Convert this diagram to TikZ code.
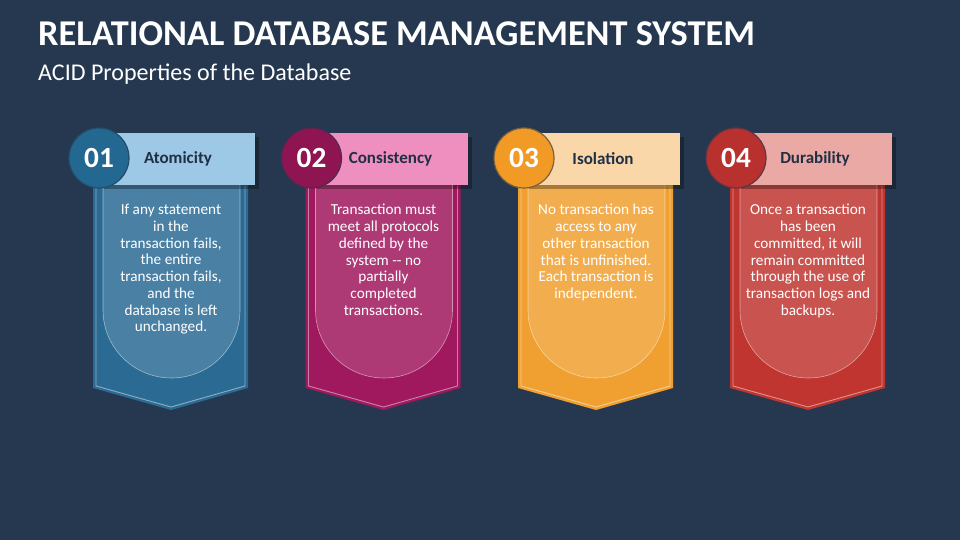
\documentclass[tikz,border=0pt]{standalone}
\usepackage{fontspec}
\setmainfont{Carlito}
\usetikzlibrary{positioning}
\definecolor{bg}{HTML}{253850}
\definecolor{banA}{HTML}{2A6A93}\definecolor{hedA}{HTML}{9DC8E6}\definecolor{cirA}{HTML}{236890}
\definecolor{banB}{HTML}{A0185E}\definecolor{hedB}{HTML}{EE8FC0}\definecolor{cirB}{HTML}{8E1452}
\definecolor{banC}{HTML}{F0A030}\definecolor{hedC}{HTML}{FAD7A8}\definecolor{cirC}{HTML}{F29A26}
\definecolor{banD}{HTML}{C03530}\definecolor{hedD}{HTML}{EBA9A6}\definecolor{cirD}{HTML}{B8312E}
\definecolor{hedtxt}{HTML}{1F2F44}
\tikzset{
  headbox/.style={fill=#1, minimum width=155*0.03cm, minimum height=52*0.03cm, inner sep=0pt},
  numdisc/.style={circle, fill=#1, draw=bg!60!#1, line width=1pt, minimum size=60*0.03cm, inner sep=0pt,
    text=white, font=\bfseries\fontsize{25}{25}\selectfont},
  bodytext/.style={text=white, align=center, inner sep=0pt,
    font=\fontsize{13}{14.3}\selectfont},
}
\begin{document}
\begin{tikzpicture}[x=0.03cm,y=-0.03cm]
\fill[bg] (0,0) rectangle (960,540);
\useasboundingbox (0,0) rectangle (960,540);
\node[anchor=west, text=white, font=\bfseries\fontsize{31}{31}\selectfont, inner sep=0pt] (title) at (38,34) {RELATIONAL DATABASE MANAGEMENT SYSTEM};
\node[anchor=west, text=white, font=\fontsize{20.5}{20.5}\selectfont, inner sep=0pt] (subtitle) at (38,74) {ACID Properties of the Database};

\foreach \k/\x/\c/\num/\head/\body in {
  a/0/A/01/Atomicity/{If any statement\\in the\\transaction fails,\\the entire\\transaction fails,\\and the\\database is left\\unchanged.},
  b/212.5/B/02/Consistency/{Transaction must\\meet all protocols\\defined by the\\system -{}- no\\partially\\completed\\transactions.},
  c/425/C/03/Isolation/{No transaction has\\access to any\\other transaction\\that is unfinished.\\Each transaction is\\independent.},
  d/637/D/04/Durability/{Once a transaction\\has been\\committed, it will\\remain committed\\through the use of\\transaction logs and\\backups.}}{
  \begin{scope}[xshift=\x*0.03cm]
    % banner
    \fill[ban\c] (93,180) -- (248,180) -- (248,388) -- (171,410) -- (93,388) -- cycle;
    \draw[white, opacity=0.45, line width=0.8pt] (96,186) -- (96,386) -- (171,407) -- (245,386) -- (245,186);
    \fill[white, opacity=0.15] (103,185) -- (103,310) arc[start angle=180, end angle=0, x radius=68.5, y radius=68] -- (240,185) -- cycle;
    \draw[white, opacity=0.5, line width=0.5pt] (103,185) -- (103,310) arc[start angle=180, end angle=0, x radius=68.5, y radius=68] -- (240,185);
    % header
    \fill[black, opacity=0.3] (104,137) rectangle (259,189);
    \node[headbox=hed\c] (head\k) at (177.5,159) {};
    \node[text=\ifx\c C brown!70!black\else hedtxt\fi, font=\bfseries\fontsize{14.5}{14.5}\selectfont] (label\k) at (178,159) {\head};
    \node[numdisc=cir\c] (num\k) at (99,158) {\num};
    \node[bodytext, anchor=north] (body\k) at (171,204) {\body};
  \end{scope}
}
\end{tikzpicture}
\end{document}
